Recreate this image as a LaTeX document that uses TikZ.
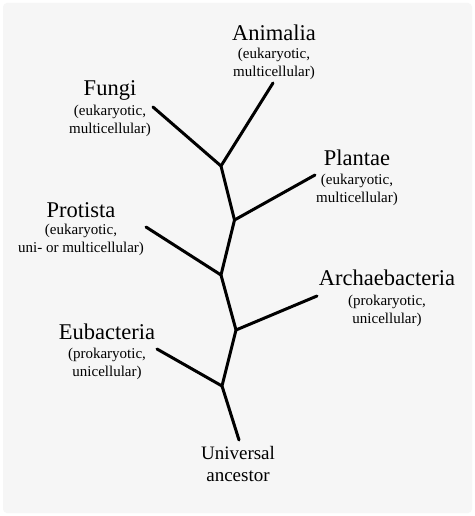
\documentclass[tikz,border=0pt]{standalone}
\usepackage{fontspec}
\setmainfont{Liberation Serif}
\begin{document}
\begin{tikzpicture}[x=1pt,y=-1pt,
  br/.style={line width=3pt, line cap=round, line join=round, black},
  ttl/.style={font=\fontsize{22.5}{24}\selectfont, inner sep=0pt, anchor=center},
  sub/.style={font=\fontsize{15}{18}\selectfont, inner sep=0pt, anchor=center},
  pt/.style={inner sep=0pt, minimum size=0pt}]
\useasboundingbox (0,0) rectangle (474,516);
\fill[white] (0,0) rectangle (474,516);
\fill[fill={rgb,255:red,246;green,246;blue,246}, rounded corners=4pt] (3,3) rectangle (472,513);
% junctions and tips
\coordinate (root) at (239,440);
\coordinate (j5) at (222,386);
\coordinate (j4) at (236,330);
\coordinate (j3) at (221,275);
\coordinate (j2) at (234.5,220);
\coordinate (j1) at (221,166);
\coordinate (tAni) at (273,83);
\coordinate (tFun) at (153,107);
\coordinate (tPla) at (315,175);
\coordinate (tPro) at (146,227);
\coordinate (tArc) at (317,296);
\coordinate (tEub) at (157,349);
% branches
\draw[br] (root) -- (j5) -- (j4) -- (j3) -- (j2) -- (j1) -- (tAni);
\draw[br] (j1) -- (tFun);
\draw[br] (j2) -- (tPla);
\draw[br] (j3) -- (tPro);
\draw[br] (j4) -- (tArc);
\draw[br] (j5) -- (tEub);
% labels
\node[ttl] (ani) at (274,33) {Animalia};
\node[sub] (ani1) at (274,55) {(eukaryotic,};
\node[sub] (ani2) at (274,73) {multicellular)};
\node[ttl] (fun) at (110,90) {Fungi};
\node[sub] (fun1) at (110,112) {(eukaryotic,};
\node[sub] (fun2) at (110,130) {multicellular)};
\node[ttl] (pla) at (357,158) {Plantae};
\node[sub] (pla1) at (357,181) {(eukaryotic,};
\node[sub] (pla2) at (357,199) {multicellular)};
\node[ttl] (pro) at (81,210) {Protista};
\node[sub] (pro1) at (81,231) {(eukaryotic,};
\node[sub] (pro2) at (81,249) {uni- or multicellular)};
\node[ttl] (arc) at (387,278) {Archaebacteria};
\node[sub] (arc1) at (387,302) {(prokaryotic,};
\node[sub] (arc2) at (387,320) {unicellular)};
\node[ttl] (eub) at (107,332) {Eubacteria};
\node[sub] (eub1) at (107,355) {(prokaryotic,};
\node[sub] (eub2) at (107,373) {unicellular)};
\node[font=\fontsize{19}{22}\selectfont, inner sep=0pt] (uni1) at (238,453) {Universal};
\node[font=\fontsize{19}{22}\selectfont, inner sep=0pt] (uni2) at (238,476) {ancestor};
\end{tikzpicture}
\end{document}
